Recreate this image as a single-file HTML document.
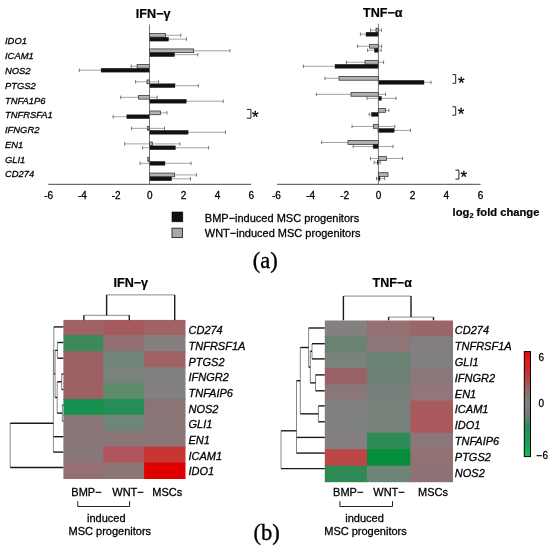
<!DOCTYPE html>
<html><head><meta charset="utf-8"><title>Figure</title>
<style>
html,body{margin:0;padding:0;background:#fff;}
body{width:550px;height:552px;overflow:hidden;}
svg{display:block;}
</style></head>
<body>
<svg width="550" height="552" viewBox="0 0 550 552">
<rect x="0" y="0" width="550" height="552" fill="#fff"/>
<line x1="150.20" y1="35.25" x2="180.80" y2="35.25" stroke="#8c8c8c" stroke-width="0.8" />
<line x1="150.20" y1="33.55" x2="150.20" y2="36.95" stroke="#555" stroke-width="0.8" />
<line x1="180.80" y1="33.55" x2="180.80" y2="36.95" stroke="#555" stroke-width="0.8" />
<line x1="150.70" y1="39.15" x2="186.50" y2="39.15" stroke="#8c8c8c" stroke-width="0.8" />
<line x1="150.70" y1="37.45" x2="150.70" y2="40.85" stroke="#555" stroke-width="0.8" />
<line x1="186.50" y1="37.45" x2="186.50" y2="40.85" stroke="#555" stroke-width="0.8" />
<line x1="157.50" y1="50.77" x2="229.90" y2="50.77" stroke="#8c8c8c" stroke-width="0.8" />
<line x1="157.50" y1="49.07" x2="157.50" y2="52.47" stroke="#555" stroke-width="0.8" />
<line x1="229.90" y1="49.07" x2="229.90" y2="52.47" stroke="#555" stroke-width="0.8" />
<line x1="151.50" y1="54.67" x2="197.70" y2="54.67" stroke="#8c8c8c" stroke-width="0.8" />
<line x1="151.50" y1="52.97" x2="151.50" y2="56.37" stroke="#555" stroke-width="0.8" />
<line x1="197.70" y1="52.97" x2="197.70" y2="56.37" stroke="#555" stroke-width="0.8" />
<line x1="131.20" y1="66.29" x2="143.00" y2="66.29" stroke="#8c8c8c" stroke-width="0.8" />
<line x1="131.20" y1="64.59" x2="131.20" y2="67.99" stroke="#555" stroke-width="0.8" />
<line x1="143.00" y1="64.59" x2="143.00" y2="67.99" stroke="#555" stroke-width="0.8" />
<line x1="79.30" y1="70.19" x2="122.90" y2="70.19" stroke="#8c8c8c" stroke-width="0.8" />
<line x1="79.30" y1="68.49" x2="79.30" y2="71.89" stroke="#555" stroke-width="0.8" />
<line x1="122.90" y1="68.49" x2="122.90" y2="71.89" stroke="#555" stroke-width="0.8" />
<line x1="135.60" y1="81.81" x2="158.60" y2="81.81" stroke="#8c8c8c" stroke-width="0.8" />
<line x1="135.60" y1="80.11" x2="135.60" y2="83.51" stroke="#555" stroke-width="0.8" />
<line x1="158.60" y1="80.11" x2="158.60" y2="83.51" stroke="#555" stroke-width="0.8" />
<line x1="151.70" y1="85.71" x2="198.30" y2="85.71" stroke="#8c8c8c" stroke-width="0.8" />
<line x1="151.70" y1="84.01" x2="151.70" y2="87.41" stroke="#555" stroke-width="0.8" />
<line x1="198.30" y1="84.01" x2="198.30" y2="87.41" stroke="#555" stroke-width="0.8" />
<line x1="120.70" y1="97.33" x2="157.20" y2="97.33" stroke="#8c8c8c" stroke-width="0.8" />
<line x1="120.70" y1="95.63" x2="120.70" y2="99.03" stroke="#555" stroke-width="0.8" />
<line x1="157.20" y1="95.63" x2="157.20" y2="99.03" stroke="#555" stroke-width="0.8" />
<line x1="149.40" y1="101.23" x2="223.20" y2="101.23" stroke="#8c8c8c" stroke-width="0.8" />
<line x1="149.40" y1="99.53" x2="149.40" y2="102.93" stroke="#555" stroke-width="0.8" />
<line x1="223.20" y1="99.53" x2="223.20" y2="102.93" stroke="#555" stroke-width="0.8" />
<line x1="154.00" y1="112.85" x2="167.00" y2="112.85" stroke="#8c8c8c" stroke-width="0.8" />
<line x1="154.00" y1="111.15" x2="154.00" y2="114.55" stroke="#555" stroke-width="0.8" />
<line x1="167.00" y1="111.15" x2="167.00" y2="114.55" stroke="#555" stroke-width="0.8" />
<line x1="113.10" y1="116.75" x2="140.50" y2="116.75" stroke="#8c8c8c" stroke-width="0.8" />
<line x1="113.10" y1="115.05" x2="113.10" y2="118.45" stroke="#555" stroke-width="0.8" />
<line x1="140.50" y1="115.05" x2="140.50" y2="118.45" stroke="#555" stroke-width="0.8" />
<line x1="131.60" y1="128.37" x2="164.50" y2="128.37" stroke="#8c8c8c" stroke-width="0.8" />
<line x1="131.60" y1="126.67" x2="131.60" y2="130.07" stroke="#555" stroke-width="0.8" />
<line x1="164.50" y1="126.67" x2="164.50" y2="130.07" stroke="#555" stroke-width="0.8" />
<line x1="150.70" y1="132.27" x2="225.50" y2="132.27" stroke="#8c8c8c" stroke-width="0.8" />
<line x1="150.70" y1="130.57" x2="150.70" y2="133.97" stroke="#555" stroke-width="0.8" />
<line x1="225.50" y1="130.57" x2="225.50" y2="133.97" stroke="#555" stroke-width="0.8" />
<line x1="124.70" y1="143.89" x2="179.90" y2="143.89" stroke="#8c8c8c" stroke-width="0.8" />
<line x1="124.70" y1="142.19" x2="124.70" y2="145.59" stroke="#555" stroke-width="0.8" />
<line x1="179.90" y1="142.19" x2="179.90" y2="145.59" stroke="#555" stroke-width="0.8" />
<line x1="142.60" y1="147.79" x2="208.60" y2="147.79" stroke="#8c8c8c" stroke-width="0.8" />
<line x1="142.60" y1="146.09" x2="142.60" y2="149.49" stroke="#555" stroke-width="0.8" />
<line x1="208.60" y1="146.09" x2="208.60" y2="149.49" stroke="#555" stroke-width="0.8" />
<line x1="140.00" y1="163.31" x2="191.00" y2="163.31" stroke="#8c8c8c" stroke-width="0.8" />
<line x1="140.00" y1="161.61" x2="140.00" y2="165.01" stroke="#555" stroke-width="0.8" />
<line x1="191.00" y1="161.61" x2="191.00" y2="165.01" stroke="#555" stroke-width="0.8" />
<line x1="152.70" y1="174.93" x2="196.50" y2="174.93" stroke="#8c8c8c" stroke-width="0.8" />
<line x1="152.70" y1="173.23" x2="152.70" y2="176.63" stroke="#555" stroke-width="0.8" />
<line x1="196.50" y1="173.23" x2="196.50" y2="176.63" stroke="#555" stroke-width="0.8" />
<line x1="152.90" y1="178.83" x2="190.50" y2="178.83" stroke="#8c8c8c" stroke-width="0.8" />
<line x1="152.90" y1="177.13" x2="152.90" y2="180.53" stroke="#555" stroke-width="0.8" />
<line x1="190.50" y1="177.13" x2="190.50" y2="180.53" stroke="#555" stroke-width="0.8" />
<rect x="149.50" y="33.40" width="16.00" height="3.70" fill="#b2b2b2" stroke="#3a3a3a" stroke-width="0.8"/>
<rect x="149.50" y="37.20" width="19.10" height="3.90" fill="#111" stroke="#2a2a2a" stroke-width="0.4"/>
<rect x="149.50" y="48.92" width="44.20" height="3.70" fill="#b2b2b2" stroke="#3a3a3a" stroke-width="0.8"/>
<rect x="149.50" y="52.72" width="25.10" height="3.90" fill="#111" stroke="#2a2a2a" stroke-width="0.4"/>
<rect x="137.10" y="64.44" width="12.40" height="3.70" fill="#b2b2b2" stroke="#3a3a3a" stroke-width="0.8"/>
<rect x="101.10" y="68.24" width="48.40" height="3.90" fill="#111" stroke="#2a2a2a" stroke-width="0.4"/>
<rect x="147.00" y="79.96" width="2.50" height="3.70" fill="#b2b2b2" stroke="#3a3a3a" stroke-width="0.8"/>
<rect x="149.50" y="83.76" width="25.50" height="3.90" fill="#111" stroke="#2a2a2a" stroke-width="0.4"/>
<rect x="138.60" y="95.48" width="10.90" height="3.70" fill="#b2b2b2" stroke="#3a3a3a" stroke-width="0.8"/>
<rect x="149.50" y="99.28" width="36.80" height="3.90" fill="#111" stroke="#2a2a2a" stroke-width="0.4"/>
<rect x="149.50" y="111.00" width="11.00" height="3.70" fill="#b2b2b2" stroke="#3a3a3a" stroke-width="0.8"/>
<rect x="126.80" y="114.80" width="22.70" height="3.90" fill="#111" stroke="#2a2a2a" stroke-width="0.4"/>
<rect x="147.60" y="126.52" width="1.90" height="3.70" fill="#b2b2b2" stroke="#3a3a3a" stroke-width="0.8"/>
<rect x="149.50" y="130.32" width="38.60" height="3.90" fill="#111" stroke="#2a2a2a" stroke-width="0.4"/>
<rect x="149.50" y="142.04" width="2.80" height="3.70" fill="#b2b2b2" stroke="#3a3a3a" stroke-width="0.8"/>
<rect x="149.50" y="145.84" width="26.00" height="3.90" fill="#111" stroke="#2a2a2a" stroke-width="0.4"/>
<rect x="147.80" y="157.56" width="1.70" height="3.70" fill="#b2b2b2" stroke="#3a3a3a" stroke-width="0.8"/>
<rect x="149.50" y="161.36" width="15.50" height="3.90" fill="#111" stroke="#2a2a2a" stroke-width="0.4"/>
<rect x="149.50" y="173.08" width="25.10" height="3.70" fill="#b2b2b2" stroke="#3a3a3a" stroke-width="0.8"/>
<rect x="149.50" y="176.88" width="22.20" height="3.90" fill="#111" stroke="#2a2a2a" stroke-width="0.4"/>
<line x1="149.50" y1="24.50" x2="149.50" y2="184.30" stroke="#555" stroke-width="0.8" />
<line x1="48.20" y1="184.30" x2="251.30" y2="184.30" stroke="#333" stroke-width="0.9" />
<text x="48.60" y="199.20" font-family="'Liberation Sans', Arial, sans-serif" font-size="10" text-anchor="middle" font-weight="normal" font-style="normal" fill="#000"  stroke="#000" stroke-width="0.28">-6</text>
<text x="82.40" y="199.20" font-family="'Liberation Sans', Arial, sans-serif" font-size="10" text-anchor="middle" font-weight="normal" font-style="normal" fill="#000"  stroke="#000" stroke-width="0.28">-4</text>
<text x="116.10" y="199.20" font-family="'Liberation Sans', Arial, sans-serif" font-size="10" text-anchor="middle" font-weight="normal" font-style="normal" fill="#000"  stroke="#000" stroke-width="0.28">-2</text>
<text x="149.80" y="199.20" font-family="'Liberation Sans', Arial, sans-serif" font-size="10" text-anchor="middle" font-weight="normal" font-style="normal" fill="#000"  stroke="#000" stroke-width="0.28">0</text>
<text x="183.60" y="199.20" font-family="'Liberation Sans', Arial, sans-serif" font-size="10" text-anchor="middle" font-weight="normal" font-style="normal" fill="#000"  stroke="#000" stroke-width="0.28">2</text>
<text x="217.50" y="199.20" font-family="'Liberation Sans', Arial, sans-serif" font-size="10" text-anchor="middle" font-weight="normal" font-style="normal" fill="#000"  stroke="#000" stroke-width="0.28">4</text>
<text x="251.30" y="199.20" font-family="'Liberation Sans', Arial, sans-serif" font-size="10" text-anchor="middle" font-weight="normal" font-style="normal" fill="#000"  stroke="#000" stroke-width="0.28">6</text>
<line x1="370.60" y1="30.20" x2="381.40" y2="30.20" stroke="#8c8c8c" stroke-width="0.8" />
<line x1="370.60" y1="28.50" x2="370.60" y2="31.90" stroke="#555" stroke-width="0.8" />
<line x1="381.40" y1="28.50" x2="381.40" y2="31.90" stroke="#555" stroke-width="0.8" />
<line x1="360.40" y1="34.20" x2="371.60" y2="34.20" stroke="#8c8c8c" stroke-width="0.8" />
<line x1="360.40" y1="32.50" x2="360.40" y2="35.90" stroke="#555" stroke-width="0.8" />
<line x1="371.60" y1="32.50" x2="371.60" y2="35.90" stroke="#555" stroke-width="0.8" />
<line x1="357.60" y1="46.24" x2="381.60" y2="46.24" stroke="#8c8c8c" stroke-width="0.8" />
<line x1="357.60" y1="44.54" x2="357.60" y2="47.94" stroke="#555" stroke-width="0.8" />
<line x1="381.60" y1="44.54" x2="381.60" y2="47.94" stroke="#555" stroke-width="0.8" />
<line x1="367.60" y1="50.24" x2="381.20" y2="50.24" stroke="#8c8c8c" stroke-width="0.8" />
<line x1="367.60" y1="48.54" x2="367.60" y2="51.94" stroke="#555" stroke-width="0.8" />
<line x1="381.20" y1="48.54" x2="381.20" y2="51.94" stroke="#555" stroke-width="0.8" />
<line x1="346.40" y1="62.28" x2="383.60" y2="62.28" stroke="#8c8c8c" stroke-width="0.8" />
<line x1="346.40" y1="60.58" x2="346.40" y2="63.98" stroke="#555" stroke-width="0.8" />
<line x1="383.60" y1="60.58" x2="383.60" y2="63.98" stroke="#555" stroke-width="0.8" />
<line x1="303.40" y1="66.28" x2="366.60" y2="66.28" stroke="#8c8c8c" stroke-width="0.8" />
<line x1="303.40" y1="64.58" x2="303.40" y2="67.98" stroke="#555" stroke-width="0.8" />
<line x1="366.60" y1="64.58" x2="366.60" y2="67.98" stroke="#555" stroke-width="0.8" />
<line x1="325.00" y1="78.32" x2="353.00" y2="78.32" stroke="#8c8c8c" stroke-width="0.8" />
<line x1="325.00" y1="76.62" x2="325.00" y2="80.02" stroke="#555" stroke-width="0.8" />
<line x1="353.00" y1="76.62" x2="353.00" y2="80.02" stroke="#555" stroke-width="0.8" />
<line x1="417.00" y1="82.32" x2="431.00" y2="82.32" stroke="#8c8c8c" stroke-width="0.8" />
<line x1="417.00" y1="80.62" x2="417.00" y2="84.02" stroke="#555" stroke-width="0.8" />
<line x1="431.00" y1="80.62" x2="431.00" y2="84.02" stroke="#555" stroke-width="0.8" />
<line x1="316.40" y1="94.36" x2="385.60" y2="94.36" stroke="#8c8c8c" stroke-width="0.8" />
<line x1="316.40" y1="92.66" x2="316.40" y2="96.06" stroke="#555" stroke-width="0.8" />
<line x1="385.60" y1="92.66" x2="385.60" y2="96.06" stroke="#555" stroke-width="0.8" />
<line x1="367.00" y1="98.36" x2="396.00" y2="98.36" stroke="#8c8c8c" stroke-width="0.8" />
<line x1="367.00" y1="96.66" x2="367.00" y2="100.06" stroke="#555" stroke-width="0.8" />
<line x1="396.00" y1="96.66" x2="396.00" y2="100.06" stroke="#555" stroke-width="0.8" />
<line x1="381.90" y1="110.40" x2="388.90" y2="110.40" stroke="#8c8c8c" stroke-width="0.8" />
<line x1="381.90" y1="108.70" x2="381.90" y2="112.10" stroke="#555" stroke-width="0.8" />
<line x1="388.90" y1="108.70" x2="388.90" y2="112.10" stroke="#555" stroke-width="0.8" />
<line x1="369.20" y1="114.40" x2="373.80" y2="114.40" stroke="#8c8c8c" stroke-width="0.8" />
<line x1="369.20" y1="112.70" x2="369.20" y2="116.10" stroke="#555" stroke-width="0.8" />
<line x1="373.80" y1="112.70" x2="373.80" y2="116.10" stroke="#555" stroke-width="0.8" />
<line x1="352.00" y1="126.44" x2="394.80" y2="126.44" stroke="#8c8c8c" stroke-width="0.8" />
<line x1="352.00" y1="124.74" x2="352.00" y2="128.14" stroke="#555" stroke-width="0.8" />
<line x1="394.80" y1="124.74" x2="394.80" y2="128.14" stroke="#555" stroke-width="0.8" />
<line x1="378.00" y1="130.44" x2="410.50" y2="130.44" stroke="#8c8c8c" stroke-width="0.8" />
<line x1="378.00" y1="128.74" x2="378.00" y2="132.14" stroke="#555" stroke-width="0.8" />
<line x1="410.50" y1="128.74" x2="410.50" y2="132.14" stroke="#555" stroke-width="0.8" />
<line x1="321.60" y1="142.48" x2="374.40" y2="142.48" stroke="#8c8c8c" stroke-width="0.8" />
<line x1="321.60" y1="140.78" x2="321.60" y2="144.18" stroke="#555" stroke-width="0.8" />
<line x1="374.40" y1="140.78" x2="374.40" y2="144.18" stroke="#555" stroke-width="0.8" />
<line x1="353.20" y1="146.48" x2="393.00" y2="146.48" stroke="#8c8c8c" stroke-width="0.8" />
<line x1="353.20" y1="144.78" x2="353.20" y2="148.18" stroke="#555" stroke-width="0.8" />
<line x1="393.00" y1="144.78" x2="393.00" y2="148.18" stroke="#555" stroke-width="0.8" />
<line x1="370.50" y1="158.52" x2="402.60" y2="158.52" stroke="#8c8c8c" stroke-width="0.8" />
<line x1="370.50" y1="156.82" x2="370.50" y2="160.22" stroke="#555" stroke-width="0.8" />
<line x1="402.60" y1="156.82" x2="402.60" y2="160.22" stroke="#555" stroke-width="0.8" />
<line x1="374.20" y1="162.52" x2="380.20" y2="162.52" stroke="#8c8c8c" stroke-width="0.8" />
<line x1="374.20" y1="160.82" x2="374.20" y2="164.22" stroke="#555" stroke-width="0.8" />
<line x1="380.20" y1="160.82" x2="380.20" y2="164.22" stroke="#555" stroke-width="0.8" />
<line x1="376.50" y1="178.56" x2="384.60" y2="178.56" stroke="#8c8c8c" stroke-width="0.8" />
<line x1="376.50" y1="176.86" x2="376.50" y2="180.26" stroke="#555" stroke-width="0.8" />
<line x1="384.60" y1="176.86" x2="384.60" y2="180.26" stroke="#555" stroke-width="0.8" />
<rect x="376.00" y="28.30" width="2.40" height="3.80" fill="#b2b2b2" stroke="#3a3a3a" stroke-width="0.8"/>
<rect x="366.00" y="32.20" width="12.40" height="4.00" fill="#111" stroke="#2a2a2a" stroke-width="0.4"/>
<rect x="369.60" y="44.34" width="8.80" height="3.80" fill="#b2b2b2" stroke="#3a3a3a" stroke-width="0.8"/>
<rect x="374.40" y="48.24" width="4.00" height="4.00" fill="#111" stroke="#2a2a2a" stroke-width="0.4"/>
<rect x="365.00" y="60.38" width="13.40" height="3.80" fill="#b2b2b2" stroke="#3a3a3a" stroke-width="0.8"/>
<rect x="335.00" y="64.28" width="43.40" height="4.00" fill="#111" stroke="#2a2a2a" stroke-width="0.4"/>
<rect x="339.00" y="76.42" width="39.40" height="3.80" fill="#b2b2b2" stroke="#3a3a3a" stroke-width="0.8"/>
<rect x="378.40" y="80.32" width="45.60" height="4.00" fill="#111" stroke="#2a2a2a" stroke-width="0.4"/>
<rect x="351.00" y="92.46" width="27.40" height="3.80" fill="#b2b2b2" stroke="#3a3a3a" stroke-width="0.8"/>
<rect x="378.40" y="96.36" width="3.10" height="4.00" fill="#111" stroke="#2a2a2a" stroke-width="0.4"/>
<rect x="378.40" y="108.50" width="7.00" height="3.80" fill="#b2b2b2" stroke="#3a3a3a" stroke-width="0.8"/>
<rect x="371.50" y="112.40" width="6.90" height="4.00" fill="#111" stroke="#2a2a2a" stroke-width="0.4"/>
<rect x="373.40" y="124.54" width="5.00" height="3.80" fill="#b2b2b2" stroke="#3a3a3a" stroke-width="0.8"/>
<rect x="378.40" y="128.44" width="15.80" height="4.00" fill="#111" stroke="#2a2a2a" stroke-width="0.4"/>
<rect x="348.00" y="140.58" width="30.40" height="3.80" fill="#b2b2b2" stroke="#3a3a3a" stroke-width="0.8"/>
<rect x="373.10" y="144.48" width="5.30" height="4.00" fill="#111" stroke="#2a2a2a" stroke-width="0.4"/>
<rect x="378.40" y="156.62" width="8.10" height="3.80" fill="#b2b2b2" stroke="#3a3a3a" stroke-width="0.8"/>
<rect x="377.20" y="160.52" width="1.20" height="4.00" fill="#111" stroke="#2a2a2a" stroke-width="0.4"/>
<rect x="378.40" y="172.66" width="9.60" height="3.80" fill="#b2b2b2" stroke="#3a3a3a" stroke-width="0.8"/>
<rect x="378.40" y="176.56" width="1.60" height="4.00" fill="#111" stroke="#2a2a2a" stroke-width="0.4"/>
<line x1="378.40" y1="23.60" x2="378.40" y2="184.30" stroke="#555" stroke-width="0.8" />
<line x1="277.00" y1="184.30" x2="480.60" y2="184.30" stroke="#333" stroke-width="0.9" />
<text x="276.40" y="199.20" font-family="'Liberation Sans', Arial, sans-serif" font-size="10" text-anchor="middle" font-weight="normal" font-style="normal" fill="#000"  stroke="#000" stroke-width="0.28">-6</text>
<text x="310.70" y="199.20" font-family="'Liberation Sans', Arial, sans-serif" font-size="10" text-anchor="middle" font-weight="normal" font-style="normal" fill="#000"  stroke="#000" stroke-width="0.28">-4</text>
<text x="344.60" y="199.20" font-family="'Liberation Sans', Arial, sans-serif" font-size="10" text-anchor="middle" font-weight="normal" font-style="normal" fill="#000"  stroke="#000" stroke-width="0.28">-2</text>
<text x="378.60" y="199.20" font-family="'Liberation Sans', Arial, sans-serif" font-size="10" text-anchor="middle" font-weight="normal" font-style="normal" fill="#000"  stroke="#000" stroke-width="0.28">0</text>
<text x="412.50" y="199.20" font-family="'Liberation Sans', Arial, sans-serif" font-size="10" text-anchor="middle" font-weight="normal" font-style="normal" fill="#000"  stroke="#000" stroke-width="0.28">2</text>
<text x="446.30" y="199.20" font-family="'Liberation Sans', Arial, sans-serif" font-size="10" text-anchor="middle" font-weight="normal" font-style="normal" fill="#000"  stroke="#000" stroke-width="0.28">4</text>
<text x="480.60" y="199.20" font-family="'Liberation Sans', Arial, sans-serif" font-size="10" text-anchor="middle" font-weight="normal" font-style="normal" fill="#000"  stroke="#000" stroke-width="0.28">6</text>
<text x="153.20" y="17.60" font-family="'Liberation Sans', Arial, sans-serif" font-size="12.6" text-anchor="middle" font-weight="bold" font-style="normal" fill="#000"  stroke="#000" stroke-width="0.2">IFN−γ</text>
<text x="382.80" y="16.60" font-family="'Liberation Sans', Arial, sans-serif" font-size="12.6" text-anchor="middle" font-weight="bold" font-style="normal" fill="#000"  stroke="#000" stroke-width="0.2">TNF−α</text>
<text x="5.00" y="44.40" font-family="'Liberation Sans', Arial, sans-serif" font-size="9.4" text-anchor="start" font-weight="normal" font-style="italic" fill="#000"  stroke="#000" stroke-width="0.28">IDO1</text>
<text x="5.00" y="59.18" font-family="'Liberation Sans', Arial, sans-serif" font-size="9.4" text-anchor="start" font-weight="normal" font-style="italic" fill="#000"  stroke="#000" stroke-width="0.28">ICAM1</text>
<text x="5.00" y="73.96" font-family="'Liberation Sans', Arial, sans-serif" font-size="9.4" text-anchor="start" font-weight="normal" font-style="italic" fill="#000"  stroke="#000" stroke-width="0.28">NOS2</text>
<text x="5.00" y="88.74" font-family="'Liberation Sans', Arial, sans-serif" font-size="9.4" text-anchor="start" font-weight="normal" font-style="italic" fill="#000"  stroke="#000" stroke-width="0.28">PTGS2</text>
<text x="5.00" y="103.52" font-family="'Liberation Sans', Arial, sans-serif" font-size="9.4" text-anchor="start" font-weight="normal" font-style="italic" fill="#000"  stroke="#000" stroke-width="0.28">TNFA1P6</text>
<text x="5.00" y="118.30" font-family="'Liberation Sans', Arial, sans-serif" font-size="9.4" text-anchor="start" font-weight="normal" font-style="italic" fill="#000"  stroke="#000" stroke-width="0.28">TNFRSFA1</text>
<text x="5.00" y="133.08" font-family="'Liberation Sans', Arial, sans-serif" font-size="9.4" text-anchor="start" font-weight="normal" font-style="italic" fill="#000"  stroke="#000" stroke-width="0.28">IFNGR2</text>
<text x="5.00" y="147.86" font-family="'Liberation Sans', Arial, sans-serif" font-size="9.4" text-anchor="start" font-weight="normal" font-style="italic" fill="#000"  stroke="#000" stroke-width="0.28">EN1</text>
<text x="5.00" y="162.64" font-family="'Liberation Sans', Arial, sans-serif" font-size="9.4" text-anchor="start" font-weight="normal" font-style="italic" fill="#000"  stroke="#000" stroke-width="0.28">GLI1</text>
<text x="5.00" y="177.42" font-family="'Liberation Sans', Arial, sans-serif" font-size="9.4" text-anchor="start" font-weight="normal" font-style="italic" fill="#000"  stroke="#000" stroke-width="0.28">CD274</text>
<path d="M246.80,109.40 H250.90 V118.20 H246.80" fill="none" stroke="#222" stroke-width="1"/>
<text x="252.10" y="122.70" font-family="'Liberation Sans', Arial, sans-serif" font-size="17" text-anchor="start" font-weight="normal" font-style="normal" fill="#000"  stroke="#000" stroke-width="0.28">*</text>
<path d="M452.50,74.60 H455.70 V83.30 H452.50" fill="none" stroke="#222" stroke-width="1"/>
<text x="458.00" y="89.00" font-family="'Liberation Sans', Arial, sans-serif" font-size="17" text-anchor="start" font-weight="normal" font-style="normal" fill="#000"  stroke="#000" stroke-width="0.28">*</text>
<path d="M452.40,106.80 H455.70 V115.20 H452.40" fill="none" stroke="#222" stroke-width="1"/>
<text x="457.70" y="120.30" font-family="'Liberation Sans', Arial, sans-serif" font-size="17" text-anchor="start" font-weight="normal" font-style="normal" fill="#000"  stroke="#000" stroke-width="0.28">*</text>
<path d="M455.40,170.10 H458.90 V179.10 H455.40" fill="none" stroke="#222" stroke-width="1"/>
<text x="460.50" y="182.60" font-family="'Liberation Sans', Arial, sans-serif" font-size="17" text-anchor="start" font-weight="normal" font-style="normal" fill="#000"  stroke="#000" stroke-width="0.28">*</text>
<text x="452.60" y="215.90" font-family="'Liberation Sans', Arial, sans-serif" font-size="11.2" text-anchor="start" font-weight="bold" font-style="normal" fill="#000"  stroke="#000" stroke-width="0.2">log<tspan font-size="7.4" dy="2.5">2</tspan><tspan dy="-2.5"> fold change</tspan></text>
<rect x="172.00" y="212.00" width="10.80" height="9.80" fill="#111" stroke="#000" stroke-width="0.6"/>
<rect x="172.00" y="228.20" width="10.40" height="9.40" fill="#a8a8a8" stroke="#222" stroke-width="0.9"/>
<text x="204.80" y="221.60" font-family="'Liberation Sans', Arial, sans-serif" font-size="11" text-anchor="start" font-weight="normal" font-style="normal" fill="#000"  stroke="#000" stroke-width="0.28">BMP−induced MSC progenitors</text>
<text x="204.80" y="237.20" font-family="'Liberation Sans', Arial, sans-serif" font-size="11" text-anchor="start" font-weight="normal" font-style="normal" fill="#000"  stroke="#000" stroke-width="0.28">WNT−induced MSC progenitors</text>
<text x="265.30" y="268.00" font-family="'Liberation Serif', 'Times New Roman', serif" font-size="22.5" text-anchor="middle" font-weight="normal" font-style="normal" fill="#000"  stroke="#000" stroke-width="0.35">(a)</text>
<text x="266.70" y="540.00" font-family="'Liberation Serif', 'Times New Roman', serif" font-size="22.5" text-anchor="middle" font-weight="normal" font-style="normal" fill="#000"  stroke="#000" stroke-width="0.35">(b)</text>
<rect x="63.40" y="319.90" width="40.90" height="16.20" fill="#a06264"/>
<rect x="103.30" y="319.90" width="41.80" height="16.20" fill="#a55a5e"/>
<rect x="144.10" y="319.90" width="41.40" height="16.20" fill="#a06466"/>
<rect x="63.40" y="335.10" width="40.90" height="17.10" fill="#3c8a5a"/>
<rect x="103.30" y="335.10" width="41.80" height="17.10" fill="#917072"/>
<rect x="144.10" y="335.10" width="41.40" height="17.10" fill="#858080"/>
<rect x="63.40" y="351.20" width="40.90" height="17.10" fill="#9e6163"/>
<rect x="103.30" y="351.20" width="41.80" height="17.10" fill="#72857a"/>
<rect x="144.10" y="351.20" width="41.40" height="17.10" fill="#a06264"/>
<rect x="63.40" y="367.30" width="40.90" height="16.70" fill="#9e6163"/>
<rect x="103.30" y="367.30" width="41.80" height="16.70" fill="#7a827c"/>
<rect x="144.10" y="367.30" width="41.40" height="16.70" fill="#828080"/>
<rect x="63.40" y="383.00" width="40.90" height="16.90" fill="#9e6163"/>
<rect x="103.30" y="383.00" width="41.80" height="16.90" fill="#5e8c6a"/>
<rect x="144.10" y="383.00" width="41.40" height="16.90" fill="#828080"/>
<rect x="63.40" y="398.90" width="40.90" height="16.80" fill="#16924e"/>
<rect x="103.30" y="398.90" width="41.80" height="16.80" fill="#268d56"/>
<rect x="144.10" y="398.90" width="41.40" height="16.80" fill="#8a7476"/>
<rect x="63.40" y="414.70" width="40.90" height="17.00" fill="#8a7577"/>
<rect x="103.30" y="414.70" width="41.80" height="17.00" fill="#6e8677"/>
<rect x="144.10" y="414.70" width="41.40" height="17.00" fill="#8a7577"/>
<rect x="63.40" y="430.70" width="40.90" height="17.00" fill="#8a7577"/>
<rect x="103.30" y="430.70" width="41.80" height="17.00" fill="#8a7577"/>
<rect x="144.10" y="430.70" width="41.40" height="17.00" fill="#8a7577"/>
<rect x="63.40" y="446.70" width="40.90" height="16.90" fill="#877779"/>
<rect x="103.30" y="446.70" width="41.80" height="16.90" fill="#b0565a"/>
<rect x="144.10" y="446.70" width="41.40" height="16.90" fill="#c83535"/>
<rect x="63.40" y="462.60" width="40.90" height="16.40" fill="#947072"/>
<rect x="103.30" y="462.60" width="41.80" height="16.40" fill="#8f7476"/>
<rect x="144.10" y="462.60" width="41.40" height="16.40" fill="#e00000"/>
<text x="188.50" y="334.10" font-family="'Liberation Sans', Arial, sans-serif" font-size="11" text-anchor="start" font-weight="normal" font-style="italic" fill="#000"  stroke="#000" stroke-width="0.28">CD274</text>
<text x="188.50" y="349.80" font-family="'Liberation Sans', Arial, sans-serif" font-size="11" text-anchor="start" font-weight="normal" font-style="italic" fill="#000"  stroke="#000" stroke-width="0.28">TNFRSF1A</text>
<text x="188.50" y="365.50" font-family="'Liberation Sans', Arial, sans-serif" font-size="11" text-anchor="start" font-weight="normal" font-style="italic" fill="#000"  stroke="#000" stroke-width="0.28">PTGS2</text>
<text x="188.50" y="381.20" font-family="'Liberation Sans', Arial, sans-serif" font-size="11" text-anchor="start" font-weight="normal" font-style="italic" fill="#000"  stroke="#000" stroke-width="0.28">IFNGR2</text>
<text x="188.50" y="396.90" font-family="'Liberation Sans', Arial, sans-serif" font-size="11" text-anchor="start" font-weight="normal" font-style="italic" fill="#000"  stroke="#000" stroke-width="0.28">TNFAIP6</text>
<text x="188.50" y="412.60" font-family="'Liberation Sans', Arial, sans-serif" font-size="11" text-anchor="start" font-weight="normal" font-style="italic" fill="#000"  stroke="#000" stroke-width="0.28">NOS2</text>
<text x="188.50" y="428.30" font-family="'Liberation Sans', Arial, sans-serif" font-size="11" text-anchor="start" font-weight="normal" font-style="italic" fill="#000"  stroke="#000" stroke-width="0.28">GLI1</text>
<text x="188.50" y="444.00" font-family="'Liberation Sans', Arial, sans-serif" font-size="11" text-anchor="start" font-weight="normal" font-style="italic" fill="#000"  stroke="#000" stroke-width="0.28">EN1</text>
<text x="188.50" y="459.70" font-family="'Liberation Sans', Arial, sans-serif" font-size="11" text-anchor="start" font-weight="normal" font-style="italic" fill="#000"  stroke="#000" stroke-width="0.28">ICAM1</text>
<text x="188.50" y="475.40" font-family="'Liberation Sans', Arial, sans-serif" font-size="11" text-anchor="start" font-weight="normal" font-style="italic" fill="#000"  stroke="#000" stroke-width="0.28">IDO1</text>
<rect x="324.80" y="320.50" width="43.20" height="16.70" fill="#858080"/>
<rect x="367.00" y="320.50" width="44.30" height="16.70" fill="#957072"/>
<rect x="410.30" y="320.50" width="42.70" height="16.70" fill="#9a6668"/>
<rect x="324.80" y="336.20" width="43.20" height="17.00" fill="#6a8272"/>
<rect x="367.00" y="336.20" width="44.30" height="17.00" fill="#8e7577"/>
<rect x="410.30" y="336.20" width="42.70" height="17.00" fill="#847e80"/>
<rect x="324.80" y="352.20" width="43.20" height="16.80" fill="#7a827c"/>
<rect x="367.00" y="352.20" width="44.30" height="16.80" fill="#6a8273"/>
<rect x="410.30" y="352.20" width="42.70" height="16.80" fill="#7e817f"/>
<rect x="324.80" y="368.00" width="43.20" height="17.30" fill="#9a6266"/>
<rect x="367.00" y="368.00" width="44.30" height="17.30" fill="#6c8274"/>
<rect x="410.30" y="368.00" width="42.70" height="17.30" fill="#8a7779"/>
<rect x="324.80" y="384.30" width="43.20" height="17.40" fill="#8a7779"/>
<rect x="367.00" y="384.30" width="44.30" height="17.40" fill="#748079"/>
<rect x="410.30" y="384.30" width="42.70" height="17.40" fill="#91767a"/>
<rect x="324.80" y="400.70" width="43.20" height="16.80" fill="#7e817f"/>
<rect x="367.00" y="400.70" width="44.30" height="16.80" fill="#76827a"/>
<rect x="410.30" y="400.70" width="42.70" height="16.80" fill="#aa5a5c"/>
<rect x="324.80" y="416.50" width="43.20" height="17.20" fill="#7e817f"/>
<rect x="367.00" y="416.50" width="44.30" height="17.20" fill="#76827a"/>
<rect x="410.30" y="416.50" width="42.70" height="17.20" fill="#aa5a5c"/>
<rect x="324.80" y="432.70" width="43.20" height="17.50" fill="#857e80"/>
<rect x="367.00" y="432.70" width="44.30" height="17.50" fill="#2e8b55"/>
<rect x="410.30" y="432.70" width="42.70" height="17.50" fill="#8a7779"/>
<rect x="324.80" y="449.20" width="43.20" height="17.50" fill="#bc4646"/>
<rect x="367.00" y="449.20" width="44.30" height="17.50" fill="#058f3c"/>
<rect x="410.30" y="449.20" width="42.70" height="17.50" fill="#927073"/>
<rect x="324.80" y="465.70" width="43.20" height="16.50" fill="#2e8a55"/>
<rect x="367.00" y="465.70" width="44.30" height="16.50" fill="#6e8474"/>
<rect x="410.30" y="465.70" width="42.70" height="16.50" fill="#8c7274"/>
<text x="454.80" y="334.30" font-family="'Liberation Sans', Arial, sans-serif" font-size="11" text-anchor="start" font-weight="normal" font-style="italic" fill="#000"  stroke="#000" stroke-width="0.28">CD274</text>
<text x="454.80" y="350.10" font-family="'Liberation Sans', Arial, sans-serif" font-size="11" text-anchor="start" font-weight="normal" font-style="italic" fill="#000"  stroke="#000" stroke-width="0.28">TNFRSF1A</text>
<text x="454.80" y="365.90" font-family="'Liberation Sans', Arial, sans-serif" font-size="11" text-anchor="start" font-weight="normal" font-style="italic" fill="#000"  stroke="#000" stroke-width="0.28">GLI1</text>
<text x="454.80" y="381.70" font-family="'Liberation Sans', Arial, sans-serif" font-size="11" text-anchor="start" font-weight="normal" font-style="italic" fill="#000"  stroke="#000" stroke-width="0.28">IFNGR2</text>
<text x="454.80" y="397.50" font-family="'Liberation Sans', Arial, sans-serif" font-size="11" text-anchor="start" font-weight="normal" font-style="italic" fill="#000"  stroke="#000" stroke-width="0.28">EN1</text>
<text x="454.80" y="413.30" font-family="'Liberation Sans', Arial, sans-serif" font-size="11" text-anchor="start" font-weight="normal" font-style="italic" fill="#000"  stroke="#000" stroke-width="0.28">ICAM1</text>
<text x="454.80" y="429.10" font-family="'Liberation Sans', Arial, sans-serif" font-size="11" text-anchor="start" font-weight="normal" font-style="italic" fill="#000"  stroke="#000" stroke-width="0.28">IDO1</text>
<text x="454.80" y="444.90" font-family="'Liberation Sans', Arial, sans-serif" font-size="11" text-anchor="start" font-weight="normal" font-style="italic" fill="#000"  stroke="#000" stroke-width="0.28">TNFAIP6</text>
<text x="454.80" y="460.70" font-family="'Liberation Sans', Arial, sans-serif" font-size="11" text-anchor="start" font-weight="normal" font-style="italic" fill="#000"  stroke="#000" stroke-width="0.28">PTGS2</text>
<text x="454.80" y="476.50" font-family="'Liberation Sans', Arial, sans-serif" font-size="11" text-anchor="start" font-weight="normal" font-style="italic" fill="#000"  stroke="#000" stroke-width="0.28">NOS2</text>
<text x="130.80" y="287.00" font-family="'Liberation Sans', Arial, sans-serif" font-size="12.6" text-anchor="middle" font-weight="bold" font-style="normal" fill="#000"  stroke="#000" stroke-width="0.2">IFN−γ</text>
<text x="392.20" y="287.00" font-family="'Liberation Sans', Arial, sans-serif" font-size="12.5" text-anchor="middle" font-weight="bold" font-style="normal" fill="#000"  stroke="#000" stroke-width="0.2">TNF−α</text>
<text x="86.50" y="495.60" font-family="'Liberation Sans', Arial, sans-serif" font-size="11" text-anchor="middle" font-weight="normal" font-style="normal" fill="#000"  stroke="#000" stroke-width="0.28">BMP−</text>
<text x="128.00" y="495.60" font-family="'Liberation Sans', Arial, sans-serif" font-size="11" text-anchor="middle" font-weight="normal" font-style="normal" fill="#000"  stroke="#000" stroke-width="0.28">WNT−</text>
<text x="167.30" y="495.60" font-family="'Liberation Sans', Arial, sans-serif" font-size="11" text-anchor="middle" font-weight="normal" font-style="normal" fill="#000"  stroke="#000" stroke-width="0.28">MSCs</text>
<text x="348.20" y="495.60" font-family="'Liberation Sans', Arial, sans-serif" font-size="11" text-anchor="middle" font-weight="normal" font-style="normal" fill="#000"  stroke="#000" stroke-width="0.28">BMP−</text>
<text x="389.00" y="495.60" font-family="'Liberation Sans', Arial, sans-serif" font-size="11" text-anchor="middle" font-weight="normal" font-style="normal" fill="#000"  stroke="#000" stroke-width="0.28">WNT−</text>
<text x="433.10" y="495.60" font-family="'Liberation Sans', Arial, sans-serif" font-size="11" text-anchor="middle" font-weight="normal" font-style="normal" fill="#000"  stroke="#000" stroke-width="0.28">MSCs</text>
<path d="M77.80,501.20 V506.50 H129.60 V501.20" fill="none" stroke="#222" stroke-width="1"/>
<path d="M339.90,501.20 V506.50 H392.50 V501.20" fill="none" stroke="#222" stroke-width="1"/>
<text x="106.30" y="521.80" font-family="'Liberation Sans', Arial, sans-serif" font-size="11" text-anchor="middle" font-weight="normal" font-style="normal" fill="#000"  stroke="#000" stroke-width="0.28">induced</text>
<text x="109.80" y="534.60" font-family="'Liberation Sans', Arial, sans-serif" font-size="11" text-anchor="middle" font-weight="normal" font-style="normal" fill="#000"  stroke="#000" stroke-width="0.28">MSC progenitors</text>
<text x="364.60" y="521.80" font-family="'Liberation Sans', Arial, sans-serif" font-size="11" text-anchor="middle" font-weight="normal" font-style="normal" fill="#000"  stroke="#000" stroke-width="0.28">induced</text>
<text x="365.50" y="534.60" font-family="'Liberation Sans', Arial, sans-serif" font-size="11" text-anchor="middle" font-weight="normal" font-style="normal" fill="#000"  stroke="#000" stroke-width="0.28">MSC progenitors</text>
<line x1="83.90" y1="315.30" x2="129.30" y2="315.30" stroke="#6a6a6a" stroke-width="0.8" />
<line x1="83.90" y1="315.30" x2="83.90" y2="320.20" stroke="#1a1a1a" stroke-width="1.4" />
<line x1="129.30" y1="315.30" x2="129.30" y2="320.20" stroke="#1a1a1a" stroke-width="1.4" />
<line x1="106.60" y1="294.90" x2="174.70" y2="294.90" stroke="#6a6a6a" stroke-width="0.8" />
<line x1="106.60" y1="294.90" x2="106.60" y2="315.30" stroke="#1a1a1a" stroke-width="1.4" />
<line x1="174.70" y1="294.90" x2="174.70" y2="320.20" stroke="#1a1a1a" stroke-width="1.4" />
<line x1="388.60" y1="317.10" x2="433.50" y2="317.10" stroke="#6a6a6a" stroke-width="0.8" />
<line x1="388.60" y1="317.10" x2="388.60" y2="320.30" stroke="#1a1a1a" stroke-width="1.4" />
<line x1="433.50" y1="317.10" x2="433.50" y2="320.30" stroke="#1a1a1a" stroke-width="1.4" />
<line x1="343.40" y1="296.10" x2="411.00" y2="296.10" stroke="#6a6a6a" stroke-width="0.8" />
<line x1="343.40" y1="296.10" x2="343.40" y2="320.30" stroke="#1a1a1a" stroke-width="1.4" />
<line x1="411.00" y1="296.10" x2="411.00" y2="317.10" stroke="#1a1a1a" stroke-width="1.4" />
<line x1="57.40" y1="342.50" x2="57.40" y2="358.20" stroke="#6a6a6a" stroke-width="0.8" />
<line x1="57.40" y1="342.50" x2="63.40" y2="342.50" stroke="#1a1a1a" stroke-width="1.4" />
<line x1="57.40" y1="358.20" x2="63.40" y2="358.20" stroke="#1a1a1a" stroke-width="1.4" />
<line x1="61.70" y1="374.00" x2="61.70" y2="389.50" stroke="#6a6a6a" stroke-width="0.8" />
<line x1="61.70" y1="374.00" x2="63.40" y2="374.00" stroke="#1a1a1a" stroke-width="1.4" />
<line x1="61.70" y1="389.50" x2="63.40" y2="389.50" stroke="#1a1a1a" stroke-width="1.4" />
<line x1="62.30" y1="405.20" x2="62.30" y2="421.10" stroke="#6a6a6a" stroke-width="0.8" />
<line x1="62.30" y1="405.20" x2="63.40" y2="405.20" stroke="#1a1a1a" stroke-width="1.4" />
<line x1="62.30" y1="421.10" x2="63.40" y2="421.10" stroke="#1a1a1a" stroke-width="1.4" />
<line x1="57.20" y1="381.75" x2="57.20" y2="413.15" stroke="#6a6a6a" stroke-width="0.8" />
<line x1="57.20" y1="381.75" x2="61.70" y2="381.75" stroke="#1a1a1a" stroke-width="1.4" />
<line x1="57.20" y1="413.15" x2="62.30" y2="413.15" stroke="#1a1a1a" stroke-width="1.4" />
<line x1="55.10" y1="350.35" x2="55.10" y2="397.45" stroke="#6a6a6a" stroke-width="0.8" />
<line x1="55.10" y1="350.35" x2="57.40" y2="350.35" stroke="#1a1a1a" stroke-width="1.4" />
<line x1="55.10" y1="397.45" x2="57.20" y2="397.45" stroke="#1a1a1a" stroke-width="1.4" />
<line x1="53.80" y1="326.90" x2="53.80" y2="373.90" stroke="#6a6a6a" stroke-width="0.8" />
<line x1="53.80" y1="326.90" x2="63.40" y2="326.90" stroke="#1a1a1a" stroke-width="1.4" />
<line x1="53.80" y1="373.90" x2="55.10" y2="373.90" stroke="#1a1a1a" stroke-width="1.4" />
<line x1="53.40" y1="350.40" x2="53.40" y2="436.70" stroke="#6a6a6a" stroke-width="0.8" />
<line x1="53.40" y1="350.40" x2="53.80" y2="350.40" stroke="#1a1a1a" stroke-width="1.4" />
<line x1="53.40" y1="436.70" x2="63.40" y2="436.70" stroke="#1a1a1a" stroke-width="1.4" />
<line x1="53.40" y1="436.70" x2="53.40" y2="452.10" stroke="#6a6a6a" stroke-width="0.8" />
<line x1="53.40" y1="452.10" x2="63.40" y2="452.10" stroke="#1a1a1a" stroke-width="1.4" />
<line x1="10.20" y1="423.20" x2="10.20" y2="467.50" stroke="#6a6a6a" stroke-width="0.8" />
<line x1="10.20" y1="423.20" x2="53.40" y2="423.20" stroke="#1a1a1a" stroke-width="1.4" />
<line x1="10.20" y1="467.50" x2="63.40" y2="467.50" stroke="#1a1a1a" stroke-width="1.4" />
<line x1="312.00" y1="343.70" x2="312.00" y2="358.90" stroke="#6a6a6a" stroke-width="0.8" />
<line x1="312.00" y1="343.70" x2="324.80" y2="343.70" stroke="#1a1a1a" stroke-width="1.4" />
<line x1="312.00" y1="358.90" x2="324.80" y2="358.90" stroke="#1a1a1a" stroke-width="1.4" />
<line x1="315.50" y1="374.90" x2="315.50" y2="390.80" stroke="#6a6a6a" stroke-width="0.8" />
<line x1="315.50" y1="374.90" x2="324.80" y2="374.90" stroke="#1a1a1a" stroke-width="1.4" />
<line x1="315.50" y1="390.80" x2="324.80" y2="390.80" stroke="#1a1a1a" stroke-width="1.4" />
<line x1="310.30" y1="351.30" x2="310.30" y2="382.85" stroke="#6a6a6a" stroke-width="0.8" />
<line x1="310.30" y1="351.30" x2="312.00" y2="351.30" stroke="#1a1a1a" stroke-width="1.4" />
<line x1="310.30" y1="382.85" x2="315.50" y2="382.85" stroke="#1a1a1a" stroke-width="1.4" />
<line x1="308.60" y1="328.00" x2="308.60" y2="367.10" stroke="#6a6a6a" stroke-width="0.8" />
<line x1="308.60" y1="328.00" x2="324.80" y2="328.00" stroke="#1a1a1a" stroke-width="1.4" />
<line x1="308.60" y1="367.10" x2="310.30" y2="367.10" stroke="#1a1a1a" stroke-width="1.4" />
<line x1="318.40" y1="405.90" x2="318.40" y2="421.80" stroke="#6a6a6a" stroke-width="0.8" />
<line x1="318.40" y1="405.90" x2="324.80" y2="405.90" stroke="#1a1a1a" stroke-width="1.4" />
<line x1="318.40" y1="421.80" x2="324.80" y2="421.80" stroke="#1a1a1a" stroke-width="1.4" />
<line x1="300.30" y1="347.50" x2="300.30" y2="413.85" stroke="#6a6a6a" stroke-width="0.8" />
<line x1="300.30" y1="347.50" x2="308.60" y2="347.50" stroke="#1a1a1a" stroke-width="1.4" />
<line x1="300.30" y1="413.85" x2="318.40" y2="413.85" stroke="#1a1a1a" stroke-width="1.4" />
<line x1="296.50" y1="380.70" x2="296.50" y2="437.40" stroke="#6a6a6a" stroke-width="0.8" />
<line x1="296.50" y1="380.70" x2="300.30" y2="380.70" stroke="#1a1a1a" stroke-width="1.4" />
<line x1="296.50" y1="437.40" x2="324.80" y2="437.40" stroke="#1a1a1a" stroke-width="1.4" />
<line x1="296.50" y1="437.40" x2="296.50" y2="453.10" stroke="#6a6a6a" stroke-width="0.8" />
<line x1="296.50" y1="453.10" x2="324.80" y2="453.10" stroke="#1a1a1a" stroke-width="1.4" />
<line x1="281.00" y1="430.80" x2="281.00" y2="468.60" stroke="#6a6a6a" stroke-width="0.8" />
<line x1="281.00" y1="430.80" x2="296.50" y2="430.80" stroke="#1a1a1a" stroke-width="1.4" />
<line x1="281.00" y1="468.60" x2="324.80" y2="468.60" stroke="#1a1a1a" stroke-width="1.4" />
<defs><linearGradient id="cb" x1="0" y1="0" x2="0" y2="1"><stop offset="0" stop-color="#f00808"/><stop offset="0.2" stop-color="#c83030"/><stop offset="0.4" stop-color="#8c7070"/><stop offset="0.5" stop-color="#808080"/><stop offset="0.6" stop-color="#6a8072"/><stop offset="0.72" stop-color="#2a8a5c"/><stop offset="0.88" stop-color="#12a456"/><stop offset="1" stop-color="#10bc5a"/></linearGradient></defs>
<rect x="524.30" y="351.60" width="6.20" height="105.00" fill="url(#cb)" stroke="#000" stroke-width="1.0"/>
<text x="538.50" y="361.30" font-family="'Liberation Sans', Arial, sans-serif" font-size="10" text-anchor="start" font-weight="normal" font-style="normal" fill="#000"  stroke="#000" stroke-width="0.28">6</text>
<text x="538.50" y="406.80" font-family="'Liberation Sans', Arial, sans-serif" font-size="10" text-anchor="start" font-weight="normal" font-style="normal" fill="#000"  stroke="#000" stroke-width="0.28">0</text>
<text x="536.60" y="459.30" font-family="'Liberation Sans', Arial, sans-serif" font-size="10" text-anchor="start" font-weight="normal" font-style="normal" fill="#000"  stroke="#000" stroke-width="0.28">−6</text>
</svg>
</body></html>
